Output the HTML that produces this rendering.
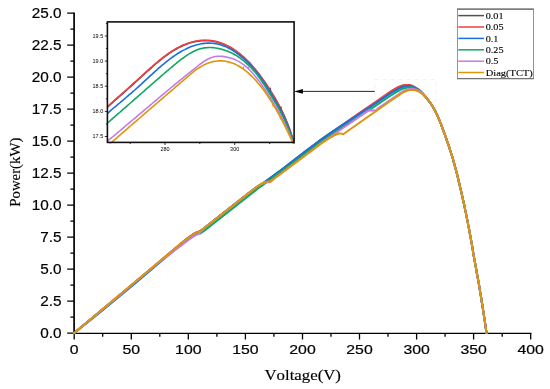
<!DOCTYPE html>
<html><head><meta charset="utf-8"><title>Power-Voltage</title>
<style>html,body{margin:0;padding:0;background:#fff;overflow:hidden;}svg{display:block;}.s{font-family:"Liberation Sans",sans-serif;fill:#000;}.t{font-family:"Liberation Serif",serif;fill:#000;}</style></head><body>
<svg width="550" height="389" viewBox="0 0 550 389">
<rect width="550" height="389" fill="#fff"/>
<path d="M74.1,12.5V334" stroke="#000" stroke-width="1.7" fill="none"/>
<path d="M73.2,333.3H531.4" stroke="#000" stroke-width="1.35" fill="none"/>
<g stroke="#000" stroke-width="1.3" fill="none">
<path d="M67.2,333.2H74M70.4,317.2H74M67.2,301.2H74M70.4,285.2H74M67.2,269.2H74M70.4,253.2H74M67.2,237.2H74M70.4,221.2H74M67.2,205.2H74M70.4,189.2H74M67.2,173.2H74M70.4,157.2H74M67.2,141.2H74M70.4,125.2H74M67.2,109.2H74M70.4,93.2H74M67.2,77.2H74M70.4,61.2H74M67.2,45.2H74M70.4,29.2H74M67.2,13.2H74M74.2,333.3V339.4M102.7,333.3V336.7M131.3,333.3V339.4M159.8,333.3V336.7M188.3,333.3V339.4M216.9,333.3V336.7M245.4,333.3V339.4M273.9,333.3V336.7M302.5,333.3V339.4M331.0,333.3V336.7M359.5,333.3V339.4M388.0,333.3V336.7M416.6,333.3V339.4M445.1,333.3V336.7M473.6,333.3V339.4M502.2,333.3V336.7M530.7,333.3V339.4"/>
</g>
<rect x="374.9" y="79.5" width="60.9" height="31.5" fill="none" stroke="#eeeeee" stroke-width="0.8" stroke-dasharray="3.6 4.4"/>
<polyline fill="none" stroke="#515151" stroke-width="2" stroke-linejoin="round" stroke-linecap="round" points="74.2,333.0 120.0,294.8 135.0,282.2 155.0,265.4 175.0,248.6 182.0,242.7 188.2,237.9 194.3,233.6 198.0,231.9 200.0,231.4 204.0,228.3 252.0,190.6 258.2,186.1 262.0,184.0 272.5,176.5 282.0,169.5 305.0,151.9 322.0,139.1 331.0,132.8 360.2,113.1 375.6,102.5 391.0,91.8 397.2,88.1 398.8,87.3 400.4,86.6 402.1,86.1 403.8,85.8 405.6,85.6 407.3,85.4 409.0,85.4 410.7,85.7 412.4,86.3 414.1,87.1 415.7,88.0 417.1,88.9 418.5,89.8 419.9,90.9 421.2,92.1 422.4,93.4 423.6,94.7 424.8,96.1 425.9,97.4 427.0,98.8 428.1,100.2 429.2,101.6 430.2,103.0 431.0,104.0 432.0,105.4 432.9,106.9 433.8,108.4 434.7,110.0 435.5,111.5 436.2,113.1 437.0,114.6 437.7,116.2 438.4,117.8 439.0,119.3 439.7,120.9 440.3,122.6 441.0,124.2 441.6,125.8 442.2,127.5 442.8,129.1 443.4,130.8 444.0,132.4 444.6,134.0 445.2,135.7 445.8,137.3 446.4,138.9 446.9,140.6 447.5,142.2 448.1,143.9 448.6,145.5 449.2,147.2 449.7,148.8 450.3,150.5 450.8,152.1 451.3,153.8 451.9,155.5 452.4,157.1 452.9,158.8 453.3,160.5 453.8,162.1 454.3,163.8 454.7,165.5 455.2,167.2 455.6,168.9 456.1,170.5 456.5,172.2 457.0,173.9 457.4,175.6 457.8,177.3 458.2,179.0 458.6,180.7 459.0,182.4 459.4,184.1 459.8,185.8 460.2,187.5 460.6,189.1 461.0,190.8 461.4,192.5 461.8,194.2 462.2,195.9 462.6,197.6 462.9,199.3 463.3,201.0 463.7,202.7 464.1,204.4 464.4,206.1 464.8,207.8 465.1,209.5 465.5,211.2 465.9,212.9 466.2,214.7 466.5,216.4 466.9,218.1 467.2,219.8 467.6,221.5 467.9,223.2 468.2,224.9 468.6,226.6 468.9,228.3 469.2,230.0 469.5,231.7 469.8,233.4 470.2,235.2 470.5,236.9 470.8,238.6 471.1,240.3 471.4,242.0 471.7,243.7 472.0,245.4 472.3,247.2 472.6,248.9 472.9,250.6 473.1,252.3 473.4,254.0 473.7,255.7 474.0,257.4 474.4,259.2 474.7,260.9 475.0,262.6 475.3,264.3 475.6,266.0 475.9,267.7 476.2,269.4 476.5,271.1 476.8,272.9 477.1,274.6 477.5,276.3 477.8,278.0 478.1,279.7 478.4,281.4 478.7,283.1 479.0,284.9 479.3,286.6 479.6,288.3 479.9,290.0 480.1,291.7 480.4,293.4 480.7,295.2 481.0,296.9 481.3,298.6 481.5,300.3 481.8,302.0 482.1,303.7 482.4,305.5 482.6,307.2 482.9,308.9 483.2,310.6 483.4,312.3 483.7,314.1 484.0,315.8 484.2,317.5 484.5,319.2 484.8,320.9 485.0,322.7 485.3,324.4 485.5,326.1 485.8,327.8 486.0,329.6 486.3,331.3 486.5,333.0"/>
<polyline fill="none" stroke="#f14040" stroke-width="2" stroke-linejoin="round" stroke-linecap="round" points="74.2,333.0 120.0,294.8 135.0,282.2 155.0,265.4 175.0,248.6 182.0,242.7 188.2,237.9 194.3,233.6 198.0,231.9 200.0,231.4 204.0,228.3 252.0,190.6 258.2,186.1 262.0,184.0 272.5,176.5 282.0,169.5 305.0,151.9 322.0,139.1 331.0,132.8 360.0,112.6 375.4,102.0 390.8,91.3 397.0,87.6 398.6,86.8 400.2,86.1 401.9,85.6 403.6,85.3 405.4,85.1 407.1,84.9 408.8,84.9 410.5,85.2 412.2,85.8 413.9,86.6 415.5,87.5 416.9,88.4 418.3,89.3 419.7,90.4 421.0,91.6 422.2,92.9 423.4,94.2 424.6,95.6 425.7,96.9 426.8,98.3 427.9,99.7 429.0,101.1 430.0,102.5 431.0,104.0 432.0,105.4 432.9,106.9 433.8,108.4 434.7,110.0 435.5,111.5 436.2,113.1 437.0,114.6 437.7,116.2 438.4,117.8 439.0,119.3 439.7,120.9 440.3,122.6 441.0,124.2 441.6,125.8 442.2,127.5 442.8,129.1 443.4,130.8 444.0,132.4 444.6,134.0 445.2,135.7 445.8,137.3 446.4,138.9 446.9,140.6 447.5,142.2 448.1,143.9 448.6,145.5 449.2,147.2 449.7,148.8 450.3,150.5 450.8,152.1 451.3,153.8 451.9,155.5 452.4,157.1 452.9,158.8 453.3,160.5 453.8,162.1 454.3,163.8 454.7,165.5 455.2,167.2 455.6,168.9 456.1,170.5 456.5,172.2 457.0,173.9 457.4,175.6 457.8,177.3 458.2,179.0 458.6,180.7 459.0,182.4 459.4,184.1 459.8,185.8 460.2,187.5 460.6,189.1 461.0,190.8 461.4,192.5 461.8,194.2 462.2,195.9 462.6,197.6 462.9,199.3 463.3,201.0 463.7,202.7 464.1,204.4 464.4,206.1 464.8,207.8 465.1,209.5 465.5,211.2 465.9,212.9 466.2,214.7 466.5,216.4 466.9,218.1 467.2,219.8 467.6,221.5 467.9,223.2 468.2,224.9 468.6,226.6 468.9,228.3 469.2,230.0 469.5,231.7 469.8,233.4 470.2,235.2 470.5,236.9 470.8,238.6 471.1,240.3 471.4,242.0 471.7,243.7 472.0,245.4 472.3,247.2 472.6,248.9 472.9,250.6 473.1,252.3 473.4,254.0 473.7,255.7 474.0,257.4 474.4,259.2 474.7,260.9 475.0,262.6 475.3,264.3 475.6,266.0 475.9,267.7 476.2,269.4 476.5,271.1 476.8,272.9 477.1,274.6 477.5,276.3 477.8,278.0 478.1,279.7 478.4,281.4 478.7,283.1 479.0,284.9 479.3,286.6 479.6,288.3 479.9,290.0 480.1,291.7 480.4,293.4 480.7,295.2 481.0,296.9 481.3,298.6 481.5,300.3 481.8,302.0 482.1,303.7 482.4,305.5 482.6,307.2 482.9,308.9 483.2,310.6 483.4,312.3 483.7,314.1 484.0,315.8 484.2,317.5 484.5,319.2 484.8,320.9 485.0,322.7 485.3,324.4 485.5,326.1 485.8,327.8 486.0,329.6 486.3,331.3 486.5,333.0"/>
<polyline fill="none" stroke="#1a6fdf" stroke-width="2" stroke-linejoin="round" stroke-linecap="round" points="74.2,333.0 95.0,316.4 110.0,304.3 135.0,283.4 155.0,266.6 168.0,255.4 175.0,249.2 182.0,242.9 188.2,238.1 194.3,233.7 198.0,232.0 200.0,231.5 204.0,228.3 252.0,190.6 258.2,186.1 262.0,184.0 272.5,176.2 282.0,169.2 305.0,151.6 322.0,138.9 331.0,132.6 360.0,113.6 375.4,103.6 390.8,93.2 397.5,89.3 399.1,88.4 400.7,87.7 402.3,87.1 404.0,86.7 405.7,86.4 407.5,86.2 409.2,86.1 410.9,86.2 412.6,86.7 414.3,87.4 415.9,88.3 417.4,89.1 418.8,90.0 420.2,91.1 421.5,92.3 422.7,93.5 423.9,94.9 425.1,96.2 426.2,97.5 427.3,98.9 428.4,100.3 429.4,101.7 430.5,103.1 431.4,104.6 432.4,106.1 433.3,107.6 434.2,109.1 435.0,110.6 435.8,112.2 436.5,113.7 437.3,115.3 438.0,116.9 439.0,119.3 439.7,120.9 440.3,122.6 441.0,124.2 441.6,125.8 442.2,127.5 442.8,129.1 443.4,130.8 444.0,132.4 444.6,134.0 445.2,135.7 445.8,137.3 446.4,138.9 446.9,140.6 447.5,142.2 448.1,143.9 448.6,145.5 449.2,147.2 449.7,148.8 450.3,150.5 450.8,152.1 451.3,153.8 451.9,155.5 452.4,157.1 452.9,158.8 453.3,160.5 453.8,162.1 454.3,163.8 454.7,165.5 455.2,167.2 455.6,168.9 456.1,170.5 456.5,172.2 457.0,173.9 457.4,175.6 457.8,177.3 458.2,179.0 458.6,180.7 459.0,182.4 459.4,184.1 459.8,185.8 460.2,187.5 460.6,189.1 461.0,190.8 461.4,192.5 461.8,194.2 462.2,195.9 462.6,197.6 462.9,199.3 463.3,201.0 463.7,202.7 464.1,204.4 464.4,206.1 464.8,207.8 465.1,209.5 465.5,211.2 465.9,212.9 466.2,214.7 466.5,216.4 466.9,218.1 467.2,219.8 467.6,221.5 467.9,223.2 468.2,224.9 468.6,226.6 468.9,228.3 469.2,230.0 469.5,231.7 469.8,233.4 470.2,235.2 470.5,236.9 470.8,238.6 471.1,240.3 471.4,242.0 471.7,243.7 472.0,245.4 472.3,247.2 472.6,248.9 472.9,250.6 473.1,252.3 473.4,254.0 473.7,255.7 474.0,257.4 474.4,259.2 474.7,260.9 475.0,262.6 475.3,264.3 475.6,266.0 475.9,267.7 476.2,269.4 476.5,271.1 476.8,272.9 477.1,274.6 477.5,276.3 477.8,278.0 478.1,279.7 478.4,281.4 478.7,283.1 479.0,284.9 479.3,286.6 479.6,288.3 479.9,290.0 480.1,291.7 480.4,293.4 480.7,295.2 481.0,296.9 481.3,298.6 481.5,300.3 481.8,302.0 482.1,303.7 482.4,305.5 482.6,307.2 482.9,308.9 483.2,310.6 483.4,312.3 483.7,314.1 484.0,315.8 484.2,317.5 484.5,319.2 484.8,320.9 485.0,322.7 485.3,324.4 485.5,326.1 485.8,327.8 486.0,329.6 486.3,331.3 486.5,333.0"/>
<polyline fill="none" stroke="#0fa860" stroke-width="2" stroke-linejoin="round" stroke-linecap="round" points="74.2,333.0 120.0,294.9 135.0,282.3 155.0,265.6 175.0,248.9 182.0,243.0 188.2,238.3 194.3,234.1 198.0,233.4 198.5,233.4 200.0,233.6 204.0,230.9 245.0,198.8 252.0,193.1 254.0,191.6 258.2,188.2 262.0,185.6 272.5,177.7 282.0,170.8 305.0,153.7 322.0,141.1 331.0,134.9 360.0,115.8 375.4,106.0 390.8,95.5 398.0,91.2 399.5,90.3 401.1,89.4 402.7,88.7 404.3,88.2 406.0,87.9 407.7,87.5 409.5,87.3 411.2,87.3 412.9,87.7 414.6,88.3 416.2,89.1 417.8,89.9 419.2,90.7 420.6,91.7 421.9,92.9 423.2,94.2 424.4,95.5 425.6,96.8 426.7,98.1 427.8,99.4 428.9,100.8 429.9,102.2 430.9,103.7 431.8,105.2 432.8,106.7 433.7,108.2 434.5,109.7 435.3,111.2 436.1,112.8 436.8,114.3 437.6,115.9 438.3,117.5 439.0,119.3 439.7,120.9 440.3,122.6 441.0,124.2 441.6,125.8 442.2,127.5 442.8,129.1 443.4,130.8 444.0,132.4 444.6,134.0 445.2,135.7 445.8,137.3 446.4,138.9 446.9,140.6 447.5,142.2 448.1,143.9 448.6,145.5 449.2,147.2 449.7,148.8 450.3,150.5 450.8,152.1 451.3,153.8 451.9,155.5 452.4,157.1 452.9,158.8 453.3,160.5 453.8,162.1 454.3,163.8 454.7,165.5 455.2,167.2 455.6,168.9 456.1,170.5 456.5,172.2 457.0,173.9 457.4,175.6 457.8,177.3 458.2,179.0 458.6,180.7 459.0,182.4 459.4,184.1 459.8,185.8 460.2,187.5 460.6,189.1 461.0,190.8 461.4,192.5 461.8,194.2 462.2,195.9 462.6,197.6 462.9,199.3 463.3,201.0 463.7,202.7 464.1,204.4 464.4,206.1 464.8,207.8 465.1,209.5 465.5,211.2 465.9,212.9 466.2,214.7 466.5,216.4 466.9,218.1 467.2,219.8 467.6,221.5 467.9,223.2 468.2,224.9 468.6,226.6 468.9,228.3 469.2,230.0 469.5,231.7 469.8,233.4 470.2,235.2 470.5,236.9 470.8,238.6 471.1,240.3 471.4,242.0 471.7,243.7 472.0,245.4 472.3,247.2 472.6,248.9 472.9,250.6 473.1,252.3 473.4,254.0 473.7,255.7 474.0,257.4 474.4,259.2 474.7,260.9 475.0,262.6 475.3,264.3 475.6,266.0 475.9,267.7 476.2,269.4 476.5,271.1 476.8,272.9 477.1,274.6 477.5,276.3 477.8,278.0 478.1,279.7 478.4,281.4 478.7,283.1 479.0,284.9 479.3,286.6 479.6,288.3 479.9,290.0 480.1,291.7 480.4,293.4 480.7,295.2 481.0,296.9 481.3,298.6 481.5,300.3 481.8,302.0 482.1,303.7 482.4,305.5 482.6,307.2 482.9,308.9 483.2,310.6 483.4,312.3 483.7,314.1 484.0,315.8 484.2,317.5 484.5,319.2 484.8,320.9 485.0,322.7 485.3,324.4 485.5,326.1 485.8,327.8 486.0,329.6 486.3,331.3 486.5,333.0"/>
<polyline fill="none" stroke="#c47be6" stroke-width="2" stroke-linejoin="round" stroke-linecap="round" points="74.2,333.0 120.0,294.9 135.0,282.3 155.0,265.6 160.0,261.4 172.0,252.6 175.0,250.3 182.0,245.0 188.2,240.2 194.3,235.9 197.5,234.4 198.0,234.0 199.5,233.0 200.0,232.7 204.0,228.4 252.0,190.6 258.2,186.0 262.0,183.7 264.3,182.8 267.5,182.3 270.5,182.0 272.5,179.9 276.7,176.8 305.0,155.5 322.0,142.6 331.0,136.3 355.8,119.2 365.5,112.4 368.0,110.8 370.0,110.3 376.0,110.6 377.8,108.6 390.8,99.5 398.0,94.8 399.4,93.7 400.9,92.7 402.3,91.7 403.9,91.0 405.5,90.3 407.1,89.7 408.8,89.2 410.5,88.8 412.2,88.7 414.0,89.0 415.7,89.4 417.4,90.1 418.9,90.8 420.4,91.6 421.7,92.7 423.0,93.9 424.3,95.2 425.4,96.6 426.6,97.9 427.6,99.2 428.7,100.6 429.7,102.0 430.7,103.5 431.7,105.0 432.6,106.5 433.5,108.0 434.4,109.5 435.2,111.0 436.0,112.6 436.7,114.1 437.5,115.7 438.2,117.3 439.0,119.3 439.7,120.9 440.3,122.6 441.0,124.2 441.6,125.8 442.2,127.5 442.8,129.1 443.4,130.8 444.0,132.4 444.6,134.0 445.2,135.7 445.8,137.3 446.4,138.9 446.9,140.6 447.5,142.2 448.1,143.9 448.6,145.5 449.2,147.2 449.7,148.8 450.3,150.5 450.8,152.1 451.3,153.8 451.9,155.5 452.4,157.1 452.9,158.8 453.3,160.5 453.8,162.1 454.3,163.8 454.7,165.5 455.2,167.2 455.6,168.9 456.1,170.5 456.5,172.2 457.0,173.9 457.4,175.6 457.8,177.3 458.2,179.0 458.6,180.7 459.0,182.4 459.4,184.1 459.8,185.8 460.2,187.5 460.6,189.1 461.0,190.8 461.4,192.5 461.8,194.2 462.2,195.9 462.6,197.6 462.9,199.3 463.3,201.0 463.7,202.7 464.1,204.4 464.4,206.1 464.8,207.8 465.1,209.5 465.5,211.2 465.9,212.9 466.2,214.7 466.5,216.4 466.9,218.1 467.2,219.8 467.6,221.5 467.9,223.2 468.2,224.9 468.6,226.6 468.9,228.3 469.2,230.0 469.5,231.7 469.8,233.4 470.2,235.2 470.5,236.9 470.8,238.6 471.1,240.3 471.4,242.0 471.7,243.7 472.0,245.4 472.3,247.2 472.6,248.9 472.9,250.6 473.1,252.3 473.4,254.0 473.7,255.7 474.0,257.4 474.4,259.2 474.7,260.9 475.0,262.6 475.3,264.3 475.6,266.0 475.9,267.7 476.2,269.4 476.5,271.1 476.8,272.9 477.1,274.6 477.5,276.3 477.8,278.0 478.1,279.7 478.4,281.4 478.7,283.1 479.0,284.9 479.3,286.6 479.6,288.3 479.9,290.0 480.1,291.7 480.4,293.4 480.7,295.2 481.0,296.9 481.3,298.6 481.5,300.3 481.8,302.0 482.1,303.7 482.4,305.5 482.6,307.2 482.9,308.9 483.2,310.6 483.4,312.3 483.7,314.1 484.0,315.8 484.2,317.5 484.5,319.2 484.8,320.9 485.0,322.7 485.3,324.4 485.5,326.1 485.8,327.8 486.0,329.6 486.3,331.3 486.5,333.0"/>
<polyline fill="none" stroke="#dd960c" stroke-width="2" stroke-linejoin="round" stroke-linecap="round" points="74.2,333.0 135.0,282.1 155.0,265.3 175.0,248.5 182.0,242.6 188.2,237.8 194.3,233.5 198.0,231.8 200.0,231.3 204.0,228.2 252.0,190.5 258.2,185.8 262.0,183.5 264.3,182.4 267.5,181.6 270.5,181.4 272.5,179.9 276.7,176.8 305.0,155.7 322.0,142.9 328.2,139.0 334.3,135.4 338.7,133.5 340.5,133.4 343.3,134.2 346.7,131.8 352.0,128.0 390.8,100.7 398.0,96.0 399.4,94.9 400.8,93.8 402.3,92.9 403.8,92.1 405.4,91.5 407.0,90.9 408.7,90.3 410.5,89.9 412.2,89.8 413.9,90.0 415.6,90.4 417.3,91.0 418.9,91.7 420.4,92.4 421.8,93.4 423.2,94.5 424.5,95.8 425.8,97.0 426.9,98.3 428.0,99.6 429.1,101.0 430.1,102.4 431.1,103.8 432.0,105.3 432.9,106.9 433.8,108.4 434.6,109.9 435.4,111.4 436.2,113.0 436.9,114.5 437.7,116.1 438.4,117.7 439.0,119.3 439.7,120.9 440.3,122.6 441.0,124.2 441.6,125.8 442.2,127.5 442.8,129.1 443.4,130.8 444.0,132.4 444.6,134.0 445.2,135.7 445.8,137.3 446.4,138.9 446.9,140.6 447.5,142.2 448.1,143.9 448.6,145.5 449.2,147.2 449.7,148.8 450.3,150.5 450.8,152.1 451.3,153.8 451.9,155.5 452.4,157.1 452.9,158.8 453.3,160.5 453.8,162.1 454.3,163.8 454.7,165.5 455.2,167.2 455.6,168.9 456.1,170.5 456.5,172.2 457.0,173.9 457.4,175.6 457.8,177.3 458.2,179.0 458.6,180.7 459.0,182.4 459.4,184.1 459.8,185.8 460.2,187.5 460.6,189.1 461.0,190.8 461.4,192.5 461.8,194.2 462.2,195.9 462.6,197.6 462.9,199.3 463.3,201.0 463.7,202.7 464.1,204.4 464.4,206.1 464.8,207.8 465.1,209.5 465.5,211.2 465.9,212.9 466.2,214.7 466.5,216.4 466.9,218.1 467.2,219.8 467.6,221.5 467.9,223.2 468.2,224.9 468.6,226.6 468.9,228.3 469.2,230.0 469.5,231.7 469.8,233.4 470.2,235.2 470.5,236.9 470.8,238.6 471.1,240.3 471.4,242.0 471.7,243.7 472.0,245.4 472.3,247.2 472.6,248.9 472.9,250.6 473.1,252.3 473.4,254.0 473.7,255.7 474.0,257.4 474.4,259.2 474.7,260.9 475.0,262.6 475.3,264.3 475.6,266.0 475.9,267.7 476.2,269.4 476.5,271.1 476.8,272.9 477.1,274.6 477.5,276.3 477.8,278.0 478.1,279.7 478.4,281.4 478.7,283.1 479.0,284.9 479.3,286.6 479.6,288.3 479.9,290.0 480.1,291.7 480.4,293.4 480.7,295.2 481.0,296.9 481.3,298.6 481.5,300.3 481.8,302.0 482.1,303.7 482.4,305.5 482.6,307.2 482.9,308.9 483.2,310.6 483.4,312.3 483.7,314.1 484.0,315.8 484.2,317.5 484.5,319.2 484.8,320.9 485.0,322.7 485.3,324.4 485.5,326.1 485.8,327.8 486.0,329.6 486.3,331.3 486.5,333.0"/>
<text class="s" font-size="14" text-anchor="end" stroke="#000" stroke-width="0.2" transform="translate(61.5,337.9) scale(1.095,1)">0.0</text>
<text class="s" font-size="14" text-anchor="end" stroke="#000" stroke-width="0.2" transform="translate(61.5,305.9) scale(1.095,1)">2.5</text>
<text class="s" font-size="14" text-anchor="end" stroke="#000" stroke-width="0.2" transform="translate(61.5,273.9) scale(1.095,1)">5.0</text>
<text class="s" font-size="14" text-anchor="end" stroke="#000" stroke-width="0.2" transform="translate(61.5,241.9) scale(1.095,1)">7.5</text>
<text class="s" font-size="14" text-anchor="end" stroke="#000" stroke-width="0.2" transform="translate(61.5,209.9) scale(1.095,1)">10.0</text>
<text class="s" font-size="14" text-anchor="end" stroke="#000" stroke-width="0.2" transform="translate(61.5,177.9) scale(1.095,1)">12.5</text>
<text class="s" font-size="14" text-anchor="end" stroke="#000" stroke-width="0.2" transform="translate(61.5,145.9) scale(1.095,1)">15.0</text>
<text class="s" font-size="14" text-anchor="end" stroke="#000" stroke-width="0.2" transform="translate(61.5,113.9) scale(1.095,1)">17.5</text>
<text class="s" font-size="14" text-anchor="end" stroke="#000" stroke-width="0.2" transform="translate(61.5,81.9) scale(1.095,1)">20.0</text>
<text class="s" font-size="14" text-anchor="end" stroke="#000" stroke-width="0.2" transform="translate(61.5,49.9) scale(1.095,1)">22.5</text>
<text class="s" font-size="14" text-anchor="end" stroke="#000" stroke-width="0.2" transform="translate(61.5,17.9) scale(1.095,1)">25.0</text>
<text class="s" font-size="13.3" text-anchor="middle" stroke="#000" stroke-width="0.2" transform="translate(74.2,354.2) scale(1.19,1)">0</text>
<text class="s" font-size="13.3" text-anchor="middle" stroke="#000" stroke-width="0.2" transform="translate(131.3,354.2) scale(1.19,1)">50</text>
<text class="s" font-size="13.3" text-anchor="middle" stroke="#000" stroke-width="0.2" transform="translate(188.3,354.2) scale(1.19,1)">100</text>
<text class="s" font-size="13.3" text-anchor="middle" stroke="#000" stroke-width="0.2" transform="translate(245.4,354.2) scale(1.19,1)">150</text>
<text class="s" font-size="13.3" text-anchor="middle" stroke="#000" stroke-width="0.2" transform="translate(302.5,354.2) scale(1.19,1)">200</text>
<text class="s" font-size="13.3" text-anchor="middle" stroke="#000" stroke-width="0.2" transform="translate(359.5,354.2) scale(1.19,1)">250</text>
<text class="s" font-size="13.3" text-anchor="middle" stroke="#000" stroke-width="0.2" transform="translate(416.6,354.2) scale(1.19,1)">300</text>
<text class="s" font-size="13.3" text-anchor="middle" stroke="#000" stroke-width="0.2" transform="translate(473.6,354.2) scale(1.19,1)">350</text>
<text class="s" font-size="13.3" text-anchor="middle" stroke="#000" stroke-width="0.2" transform="translate(530.7,354.2) scale(1.19,1)">400</text>
<text class="t" font-size="14.5" text-anchor="middle" stroke="#000" stroke-width="0.15" style="font-kerning:none" transform="translate(302.7,379.5) scale(1.16,1)">Voltage(V)</text>
<text class="t" font-size="14.8" text-anchor="middle" stroke="#000" stroke-width="0.15" transform="translate(20.1,172.2) rotate(-90)">Power(kW)</text>
<rect x="107.4" y="21.9" width="186.7" height="120.5" fill="#fff"/>
<clipPath id="ic"><rect x="107.4" y="21.9" width="187.7" height="121.5"/></clipPath>
<g clip-path="url(#ic)">
<polyline fill="none" stroke="#515151" stroke-width="1.6" stroke-linejoin="round" points="100.2,113.8 101.8,112.3 103.4,110.8 105.0,109.3 106.7,107.8 108.3,106.4 109.9,104.9 111.6,103.4 113.2,102.0 114.8,100.5 116.5,99.1 118.1,97.6 119.7,96.2 121.3,94.8 123.0,93.3 124.6,91.9 126.2,90.4 127.9,89.0 129.5,87.5 131.1,86.1 132.8,84.6 134.4,83.1 136.0,81.7 137.6,80.2 139.3,78.7 140.9,77.2 142.5,75.7 144.2,74.2 145.8,72.7 147.4,71.2 149.1,69.8 150.7,68.3 152.3,66.9 153.9,65.4 155.6,64.0 157.2,62.7 158.8,61.3 160.5,60.0 162.1,58.7 163.7,57.4 165.4,56.2 167.0,55.0 168.6,53.8 170.3,52.7 171.9,51.6 173.5,50.6 175.1,49.7 176.8,48.7 178.4,47.8 180.0,47.0 181.7,46.2 183.3,45.5 184.9,44.8 186.6,44.2 188.2,43.6 189.8,43.1 191.4,42.6 193.1,42.1 194.7,41.8 196.3,41.4 198.0,41.2 199.6,40.9 201.2,40.8 202.9,40.7 204.5,40.6 206.1,40.6 207.7,40.7 209.4,40.8 211.0,41.0 212.6,41.2 214.3,41.5 215.9,41.8 217.5,42.2 219.2,42.7 220.8,43.2 222.4,43.8 224.0,44.5 225.7,45.2 227.3,46.0 228.9,46.8 230.6,47.7 232.2,48.7 233.8,49.7 235.5,50.8 237.1,52.0 238.7,53.2 240.4,54.5 242.0,55.9 243.6,57.3 245.2,58.8 246.9,60.4 248.5,62.0 250.1,63.7 251.8,65.5 253.4,67.4 255.0,69.3 256.7,71.3 258.3,73.4 259.9,75.5 261.5,77.7 263.2,80.0 264.8,82.3 266.4,84.7 268.1,87.2 269.7,89.7 271.3,92.3 273.0,94.9 274.6,97.6 276.2,100.4 277.8,103.3 279.5,106.3 281.1,109.4 282.7,112.7 284.4,116.2 286.0,120.0 287.6,124.0 289.3,128.3 290.9,132.9 292.5,137.9 294.1,143.3"/>
<polyline fill="none" stroke="#f14040" stroke-width="1.6" stroke-linejoin="round" points="100.0,113.4 101.6,111.9 103.3,110.4 104.9,108.9 106.5,107.4 108.2,106.0 109.8,104.5 111.4,103.0 113.0,101.6 114.7,100.1 116.3,98.7 117.9,97.2 119.6,95.8 121.2,94.4 122.8,92.9 124.5,91.5 126.1,90.0 127.7,88.6 129.3,87.1 131.0,85.7 132.6,84.2 134.2,82.7 135.9,81.3 137.5,79.8 139.1,78.3 140.8,76.8 142.4,75.3 144.0,73.8 145.6,72.3 147.3,70.8 148.9,69.4 150.5,67.9 152.2,66.5 153.8,65.0 155.4,63.6 157.1,62.3 158.7,60.9 160.3,59.6 161.9,58.3 163.6,57.0 165.2,55.8 166.8,54.6 168.5,53.4 170.1,52.3 171.7,51.2 173.4,50.2 175.0,49.3 176.6,48.3 178.3,47.4 179.9,46.6 181.5,45.8 183.1,45.1 184.8,44.4 186.4,43.8 188.0,43.2 189.7,42.7 191.3,42.2 192.9,41.7 194.6,41.4 196.2,41.0 197.8,40.8 199.4,40.5 201.1,40.4 202.7,40.3 204.3,40.2 206.0,40.2 207.6,40.3 209.2,40.4 210.9,40.6 212.5,40.8 214.1,41.1 215.7,41.4 217.4,41.8 219.0,42.3 220.6,42.8 222.3,43.4 223.9,44.1 225.5,44.8 227.2,45.6 228.8,46.4 230.4,47.3 232.1,48.3 233.7,49.3 235.3,50.4 236.9,51.6 238.6,52.8 240.2,54.1 241.8,55.5 243.5,56.9 245.1,58.4 246.7,60.0 248.4,61.6 250.0,63.3 251.6,65.1 253.2,67.0 254.9,68.9 256.5,70.9 258.1,73.0 259.8,75.1 261.4,77.3 263.0,79.6 264.7,81.9 266.3,84.3 267.9,86.8 269.5,89.3 271.2,91.9 272.8,94.5 274.4,97.2 276.1,100.0 277.7,102.9 279.3,105.9 281.0,109.0 282.6,112.3 284.2,115.8 285.8,119.6 287.5,123.6 289.1,127.9 290.7,132.5 292.4,137.5 294.0,142.9"/>
<polyline fill="none" stroke="#1a6fdf" stroke-width="1.6" stroke-linejoin="round" points="100.0,120.2 101.6,118.7 103.3,117.2 104.9,115.7 106.5,114.2 108.2,112.8 109.8,111.3 111.4,109.9 113.0,108.5 114.7,107.1 116.3,105.8 117.9,104.4 119.6,103.0 121.2,101.6 122.8,100.3 124.5,98.9 126.1,97.5 127.7,96.1 129.3,94.7 131.0,93.3 132.6,91.9 134.2,90.5 135.9,89.0 137.5,87.6 139.1,86.1 140.8,84.6 142.4,83.1 144.0,81.6 145.6,80.1 147.3,78.6 148.9,77.1 150.5,75.6 152.2,74.1 153.8,72.6 155.4,71.1 157.1,69.7 158.7,68.2 160.3,66.8 161.9,65.4 163.6,64.1 165.2,62.7 166.8,61.4 168.5,60.1 170.1,58.9 171.7,57.7 173.4,56.5 175.0,55.4 176.6,54.3 178.3,53.3 179.9,52.3 181.5,51.3 183.1,50.4 184.8,49.6 186.4,48.8 188.0,48.0 189.7,47.3 191.3,46.6 192.9,46.0 194.6,45.5 196.2,45.0 197.8,44.5 199.4,44.2 201.1,43.8 202.7,43.6 204.3,43.4 206.0,43.2 207.6,43.1 209.2,43.1 210.9,43.2 212.5,43.3 214.1,43.4 215.7,43.7 217.4,44.0 219.0,44.4 220.6,44.8 222.3,45.4 223.9,46.0 225.5,46.6 227.2,47.4 228.8,48.2 230.4,49.1 232.1,50.0 233.7,51.0 235.3,52.1 236.9,53.3 238.6,54.5 240.2,55.7 241.8,57.1 243.5,58.5 245.1,59.9 246.7,61.5 248.4,63.1 250.0,64.7 251.6,66.4 253.2,68.2 254.9,70.0 256.5,72.0 258.1,74.1 259.8,76.3 261.4,78.6 263.0,81.0 264.7,83.5 266.3,86.1 267.9,88.7 269.5,91.3 271.2,93.9 272.8,96.6 274.4,99.3 276.1,102.1 277.7,104.9 279.3,107.9 281.0,111.0 282.6,114.2 284.2,117.6 285.8,121.2 287.5,125.1 289.1,129.2 290.7,133.7 292.4,138.7 294.0,144.0"/>
<polyline fill="none" stroke="#0fa860" stroke-width="1.6" stroke-linejoin="round" points="100.0,129.3 101.6,127.9 103.3,126.5 104.9,125.1 106.5,123.8 108.2,122.4 109.8,121.0 111.4,119.6 113.0,118.2 114.7,116.8 116.3,115.3 117.9,113.9 119.6,112.5 121.2,111.1 122.8,109.7 124.5,108.2 126.1,106.8 127.7,105.4 129.3,104.0 131.0,102.5 132.6,101.1 134.2,99.7 135.9,98.2 137.5,96.8 139.1,95.4 140.8,93.9 142.4,92.5 144.0,91.1 145.6,89.6 147.3,88.2 148.9,86.8 150.5,85.3 152.2,83.9 153.8,82.5 155.4,81.1 157.1,79.7 158.7,78.3 160.3,76.8 161.9,75.4 163.6,74.0 165.2,72.6 166.8,71.2 168.5,69.9 170.1,68.5 171.7,67.1 173.4,65.7 175.0,64.4 176.6,63.0 178.3,61.7 179.9,60.4 181.5,59.2 183.1,58.0 184.8,56.8 186.4,55.7 188.0,54.6 189.7,53.6 191.3,52.7 192.9,51.8 194.6,51.0 196.2,50.3 197.8,49.6 199.4,49.1 201.1,48.6 202.7,48.2 204.3,47.9 206.0,47.7 207.6,47.6 209.2,47.5 210.9,47.5 212.5,47.6 214.1,47.8 215.7,48.0 217.4,48.3 219.0,48.6 220.6,49.0 222.3,49.4 223.9,49.9 225.5,50.5 227.2,51.0 228.8,51.7 230.4,52.4 232.1,53.2 233.7,54.0 235.3,55.0 236.9,55.9 238.6,57.0 240.2,58.2 241.8,59.4 243.5,60.7 245.1,62.1 246.7,63.6 248.4,65.1 250.0,66.7 251.6,68.3 253.2,70.1 254.9,71.9 256.5,73.8 258.1,75.9 259.8,78.2 261.4,80.5 263.0,83.0 264.7,85.6 266.3,88.1 267.9,90.7 269.5,93.3 271.2,95.9 272.8,98.5 274.4,101.2 276.1,103.9 277.7,106.8 279.3,109.7 281.0,112.8 282.6,116.1 284.2,119.5 285.8,123.1 287.5,126.9 289.1,130.9 290.7,135.1 292.4,139.6 294.0,144.4"/>
<polyline fill="none" stroke="#c47be6" stroke-width="1.6" stroke-linejoin="round" points="100.0,147.3 101.6,145.9 103.3,144.6 104.9,143.2 106.5,141.9 108.2,140.5 109.8,139.2 111.4,137.8 113.0,136.5 114.7,135.1 116.3,133.8 117.9,132.4 119.6,131.0 121.2,129.7 122.8,128.3 124.5,126.9 126.1,125.5 127.7,124.2 129.3,122.8 131.0,121.4 132.6,120.0 134.2,118.7 135.9,117.3 137.5,115.9 139.1,114.5 140.8,113.2 142.4,111.8 144.0,110.4 145.6,109.0 147.3,107.6 148.9,106.3 150.5,104.9 152.2,103.5 153.8,102.1 155.4,100.8 157.1,99.4 158.7,98.0 160.3,96.7 161.9,95.3 163.6,93.9 165.2,92.6 166.8,91.2 168.5,89.9 170.1,88.5 171.7,87.1 173.4,85.8 175.0,84.4 176.6,83.1 178.3,81.8 179.9,80.4 181.5,79.1 183.1,77.8 184.8,76.4 186.4,75.1 188.0,73.8 189.7,72.5 191.3,71.2 192.9,69.9 194.6,68.6 196.2,67.3 197.8,66.0 199.4,64.7 201.1,63.5 202.7,62.3 204.3,61.3 206.0,60.2 207.6,59.3 209.2,58.5 210.9,57.8 212.5,57.3 214.1,56.8 215.7,56.5 217.4,56.4 219.0,56.3 220.6,56.3 222.3,56.4 223.9,56.6 225.5,56.9 227.2,57.2 228.8,57.6 230.4,58.0 232.1,58.5 233.7,59.1 235.3,59.8 236.9,60.6 238.6,61.4 240.2,62.4 241.8,63.4 243.5,64.6 245.1,65.8 246.7,67.2 248.4,68.7 250.0,70.3 251.6,72.0 253.2,73.8 254.9,75.7 256.5,77.8 258.1,79.9 259.8,82.1 261.4,84.3 263.0,86.7 264.7,89.0 266.3,91.4 267.9,93.9 269.5,96.4 271.2,99.0 272.8,101.6 274.4,104.4 276.1,107.1 277.7,110.0 279.3,113.0 281.0,116.1 282.6,119.3 284.2,122.6 285.8,126.0 287.5,129.5 289.1,133.2 290.7,137.0 292.4,141.0 294.0,145.1"/>
<polyline fill="none" stroke="#dd960c" stroke-width="1.6" stroke-linejoin="round" points="100.0,152.4 101.6,151.0 103.3,149.6 104.9,148.2 106.5,146.7 108.2,145.3 109.8,143.9 111.4,142.5 113.0,141.1 114.7,139.7 116.3,138.3 117.9,136.8 119.6,135.4 121.2,134.0 122.8,132.6 124.5,131.2 126.1,129.8 127.7,128.4 129.3,126.9 131.0,125.5 132.6,124.1 134.2,122.7 135.9,121.3 137.5,119.9 139.1,118.5 140.8,117.1 142.4,115.7 144.0,114.2 145.6,112.8 147.3,111.4 148.9,110.0 150.5,108.6 152.2,107.2 153.8,105.8 155.4,104.4 157.1,103.0 158.7,101.6 160.3,100.2 161.9,98.8 163.6,97.4 165.2,96.0 166.8,94.6 168.5,93.2 170.1,91.8 171.7,90.4 173.4,89.0 175.0,87.6 176.6,86.2 178.3,84.8 179.9,83.4 181.5,82.0 183.1,80.6 184.8,79.2 186.4,77.8 188.0,76.4 189.7,75.0 191.3,73.6 192.9,72.2 194.6,70.9 196.2,69.7 197.8,68.6 199.4,67.5 201.1,66.5 202.7,65.6 204.3,64.7 206.0,64.0 207.6,63.3 209.2,62.7 210.9,62.2 212.5,61.8 214.1,61.4 215.7,61.2 217.4,61.0 219.0,60.9 220.6,60.8 222.3,60.9 223.9,61.0 225.5,61.2 227.2,61.6 228.8,61.9 230.4,62.4 232.1,63.0 233.7,63.6 235.3,64.3 236.9,65.1 238.6,66.0 240.2,67.0 241.8,68.0 243.5,69.2 245.1,70.4 246.7,71.7 248.4,73.1 250.0,74.6 251.6,76.1 253.2,77.8 254.9,79.5 256.5,81.3 258.1,83.2 259.8,85.1 261.4,87.2 263.0,89.3 264.7,91.5 266.3,93.8 267.9,96.2 269.5,98.7 271.2,101.2 272.8,103.9 274.4,106.6 276.1,109.4 277.7,112.3 279.3,115.2 281.0,118.3 282.6,121.4 284.2,124.6 285.8,127.9 287.5,131.2 289.1,134.6 290.7,138.1 292.4,141.5 294.0,145.0"/>
<path d="M243.5,66.6V69.8" stroke="#dd960c" stroke-width="1" fill="none"/>
<path d="M247,61.4V64.2" stroke="#0fa860" stroke-width="1" fill="none"/>
<path d="M248.6,66.5V69.5" stroke="#c47be6" stroke-width="1" fill="none"/>
<path d="M249.8,61.9V64.9" stroke="#1a6fdf" stroke-width="1" fill="none"/>
<path d="M270.6,87.6V91.2" stroke="#515151" stroke-width="1" fill="none"/>
<path d="M275.3,98.0V101.1" stroke="#1a6fdf" stroke-width="1" fill="none"/>
<path d="M272.9,103.8V106.6" stroke="#dd960c" stroke-width="1" fill="none"/>
<path d="M281.2,106.5V109.7" stroke="#515151" stroke-width="1" fill="none"/>
<path d="M280.2,116.7V119.5" stroke="#dd960c" stroke-width="1" fill="none"/>
</g>
<rect x="107.4" y="21.9" width="186.7" height="120.5" fill="none" stroke="#111" stroke-width="1.6"/>
<path d="M104.80000000000001,136.5H107.4M104.80000000000001,111.4H107.4M104.80000000000001,86.2H107.4M104.80000000000001,61.1H107.4M104.80000000000001,36.0H107.4M105.9,124.0H107.4M105.9,98.8H107.4M105.9,73.7H107.4M105.9,48.5H107.4M105.9,23.4H107.4M165.0,142.4V145.0M234.7,142.4V145.0M130.2,142.4V144.0M199.8,142.4V144.0M269.6,142.4V144.0" stroke="#000" stroke-width="0.8" fill="none"/>
<text class="s" font-size="5" text-anchor="end" transform="translate(103.2,138.3) scale(1.1,1)">17.5</text>
<text class="s" font-size="5" text-anchor="end" transform="translate(103.2,113.2) scale(1.1,1)">18.0</text>
<text class="s" font-size="5" text-anchor="end" transform="translate(103.2,88.0) scale(1.1,1)">18.5</text>
<text class="s" font-size="5" text-anchor="end" transform="translate(103.2,62.9) scale(1.1,1)">19.0</text>
<text class="s" font-size="5" text-anchor="end" transform="translate(103.2,37.8) scale(1.1,1)">19.5</text>
<text class="s" font-size="5" text-anchor="middle" transform="translate(165.0,150.6) scale(1.1,1)">280</text>
<text class="s" font-size="5" text-anchor="middle" transform="translate(234.7,150.6) scale(1.1,1)">300</text>
<path d="M374.8,91.4H300" stroke="#111" stroke-width="0.9" fill="none"/>
<path d="M294.2,91.4L302.9,89.1V93.7Z" fill="#000"/>
<rect x="457.5" y="9.1" width="75.9" height="69.5" fill="#fff" stroke="#7a7a7a" stroke-width="0.8"/>
<path d="M457.1,78.7H533.8" fill="none" stroke="#6a6a6a" stroke-width="1.1"/>
<path d="M457.1,9.1H533.8" fill="none" stroke="#6a6a6a" stroke-width="1.1"/>
<path d="M458.3,15.6H484" stroke="#515151" stroke-width="1.5" fill="none"/>
<text class="t" font-size="9.1" stroke="#000" stroke-width="0.12" transform="translate(485.7,18.8) scale(1.12,1)">0.01</text>
<path d="M458.3,27.0H484" stroke="#f14040" stroke-width="1.5" fill="none"/>
<text class="t" font-size="9.1" stroke="#000" stroke-width="0.12" transform="translate(485.7,30.2) scale(1.12,1)">0.05</text>
<path d="M458.3,38.4H484" stroke="#1a6fdf" stroke-width="1.5" fill="none"/>
<text class="t" font-size="9.1" stroke="#000" stroke-width="0.12" transform="translate(485.7,41.6) scale(1.12,1)">0.1</text>
<path d="M458.3,49.8H484" stroke="#0fa860" stroke-width="1.5" fill="none"/>
<text class="t" font-size="9.1" stroke="#000" stroke-width="0.12" transform="translate(485.7,53.0) scale(1.12,1)">0.25</text>
<path d="M458.3,61.2H484" stroke="#c47be6" stroke-width="1.5" fill="none"/>
<text class="t" font-size="9.1" stroke="#000" stroke-width="0.12" transform="translate(485.7,64.4) scale(1.12,1)">0.5</text>
<path d="M458.3,72.5H484" stroke="#dd960c" stroke-width="1.5" fill="none"/>
<text class="t" font-size="9.1" stroke="#000" stroke-width="0.12" transform="translate(485.7,75.8) scale(1.15,1)">Diag(TCT)</text>
</svg></body></html>
